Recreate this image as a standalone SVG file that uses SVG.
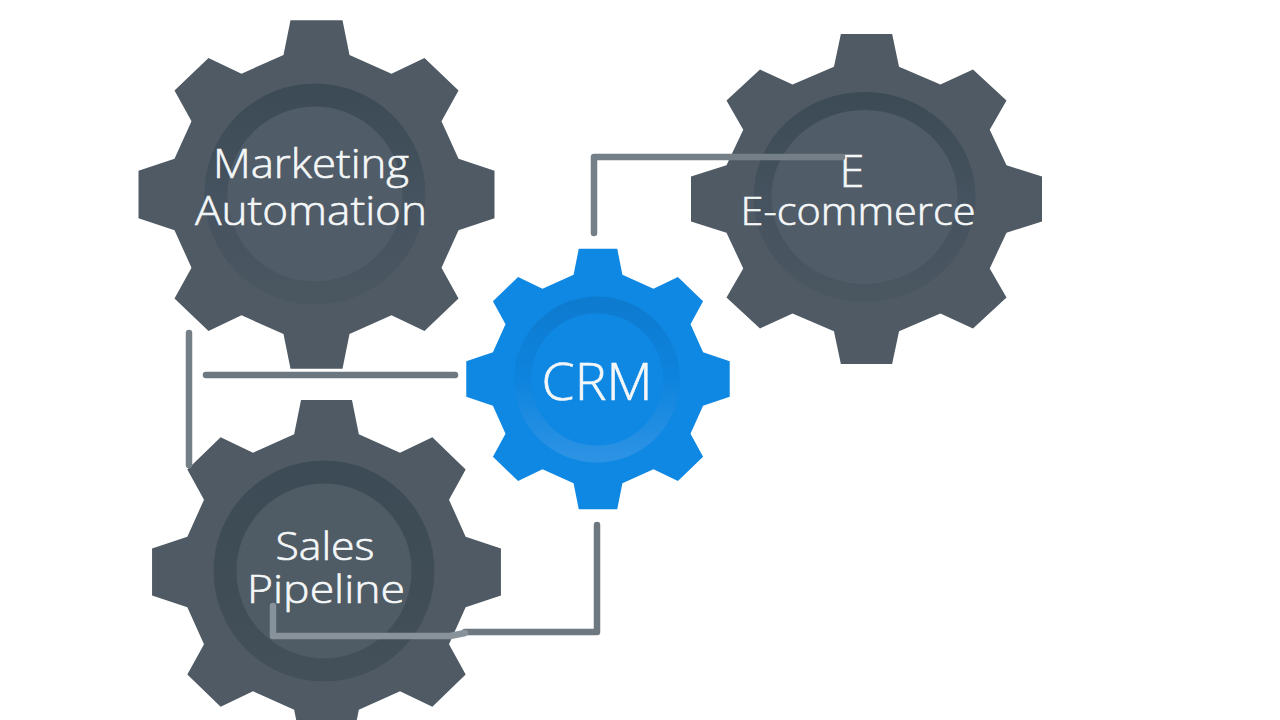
<svg xmlns="http://www.w3.org/2000/svg" width="1280" height="720" viewBox="0 0 1280 720">
<style>
text{font-family:"Open Sans","Noto Sans","Liberation Sans",sans-serif;font-weight:300;fill:#f4f7f8;text-anchor:middle;stroke:#f4f7f8;stroke-width:.6}
.g{fill:#4f5a64}
.b{fill:#0f88e4}
.c{fill:none;stroke-linecap:round;stroke-linejoin:round;stroke-width:6.5}
</style>
<defs>
<path id="gear" d="M-26,-176L26,-176L33,-141L75,-122L108,-138L142,-105L125,-74L142,-36L178,-24L178,24L142,36L125,74L142,105L108,138L75,122L33,141L26,176L-26,176L-33,141L-75,122L-108,138L-142,105L-125,74L-142,36L-178,24L-178,-24L-142,-36L-125,-74L-142,-105L-108,-138L-75,-122L-33,-141Z"/>
<linearGradient id="rd" x1="0" y1="0" x2="0" y2="1"><stop offset="0" stop-color="#3c4b55"/><stop offset="0.55" stop-color="#465360"/><stop offset="1" stop-color="#4a5660"/></linearGradient>
<linearGradient id="rs" x1="0" y1="0" x2="0" y2="1"><stop offset="0" stop-color="#3c4b55"/><stop offset="1" stop-color="#434f59"/></linearGradient>
<linearGradient id="rb" x1="0" y1="0" x2="0" y2="1"><stop offset="0" stop-color="#0d7bd0"/><stop offset="0.5" stop-color="#0e84de"/><stop offset="1" stop-color="#2b92e4"/></linearGradient>
</defs>
<rect width="1280" height="720" fill="#fff"/>
<g id="node-marketing">
<use href="#gear" class="g" transform="translate(316.5 194.5) scale(1 .99)"/>
<circle cx="315" cy="194" r="99" fill="#505c67" stroke="url(#rd)" stroke-width="23"/>
<text x="311" y="178" font-size="40" textLength="196" lengthAdjust="spacingAndGlyphs">Marketing</text>
<text x="311" y="225" font-size="40" textLength="232" lengthAdjust="spacingAndGlyphs">Automation</text>
</g>
<g id="node-ecommerce">
<use href="#gear" class="g" transform="translate(866.5 199) scale(.986 .9375)"/>
<ellipse cx="864.500" cy="197" rx="102" ry="96" fill="#505c67" stroke="url(#rd)" stroke-width="18"/>
<text x="852" y="187" font-size="45">E</text>
<text x="858" y="225" font-size="38" textLength="235" lengthAdjust="spacingAndGlyphs">E-commerce</text>
</g>
<g id="node-crm">
<use href="#gear" class="b" transform="translate(598 379) scale(.74)"/>
<circle cx="597" cy="379.500" r="74.500" fill="#0f88e4" stroke="url(#rb)" stroke-width="17"/>
<text x="597" y="400" font-size="51" textLength="111" lengthAdjust="spacingAndGlyphs">CRM</text>
</g>
<g id="node-sales">
<use href="#gear" class="g" transform="translate(326.500 572) scale(.98 .977)"/>
<circle cx="324" cy="571" r="99" fill="#4f5b65" stroke="url(#rs)" stroke-width="23"/>
<text x="325" y="560" font-size="39" textLength="99" lengthAdjust="spacingAndGlyphs">Sales</text>
<text x="326" y="603" font-size="39" textLength="158" lengthAdjust="spacingAndGlyphs">Pipeline</text>
</g>
<g id="connectors">
<path class="c" stroke="#757f88" d="M594,233V157H842"/>
<path class="c" stroke="#737e87" d="M189,333V465"/>
<path class="c" stroke="#6d7780" stroke-width="7" d="M206,375H455"/>
<path class="c" stroke="#6d7881" d="M597,525V632H465"/>
<path class="c" stroke="#87929a" d="M465,633L450,636H273V606"/>
</g>
</svg>
